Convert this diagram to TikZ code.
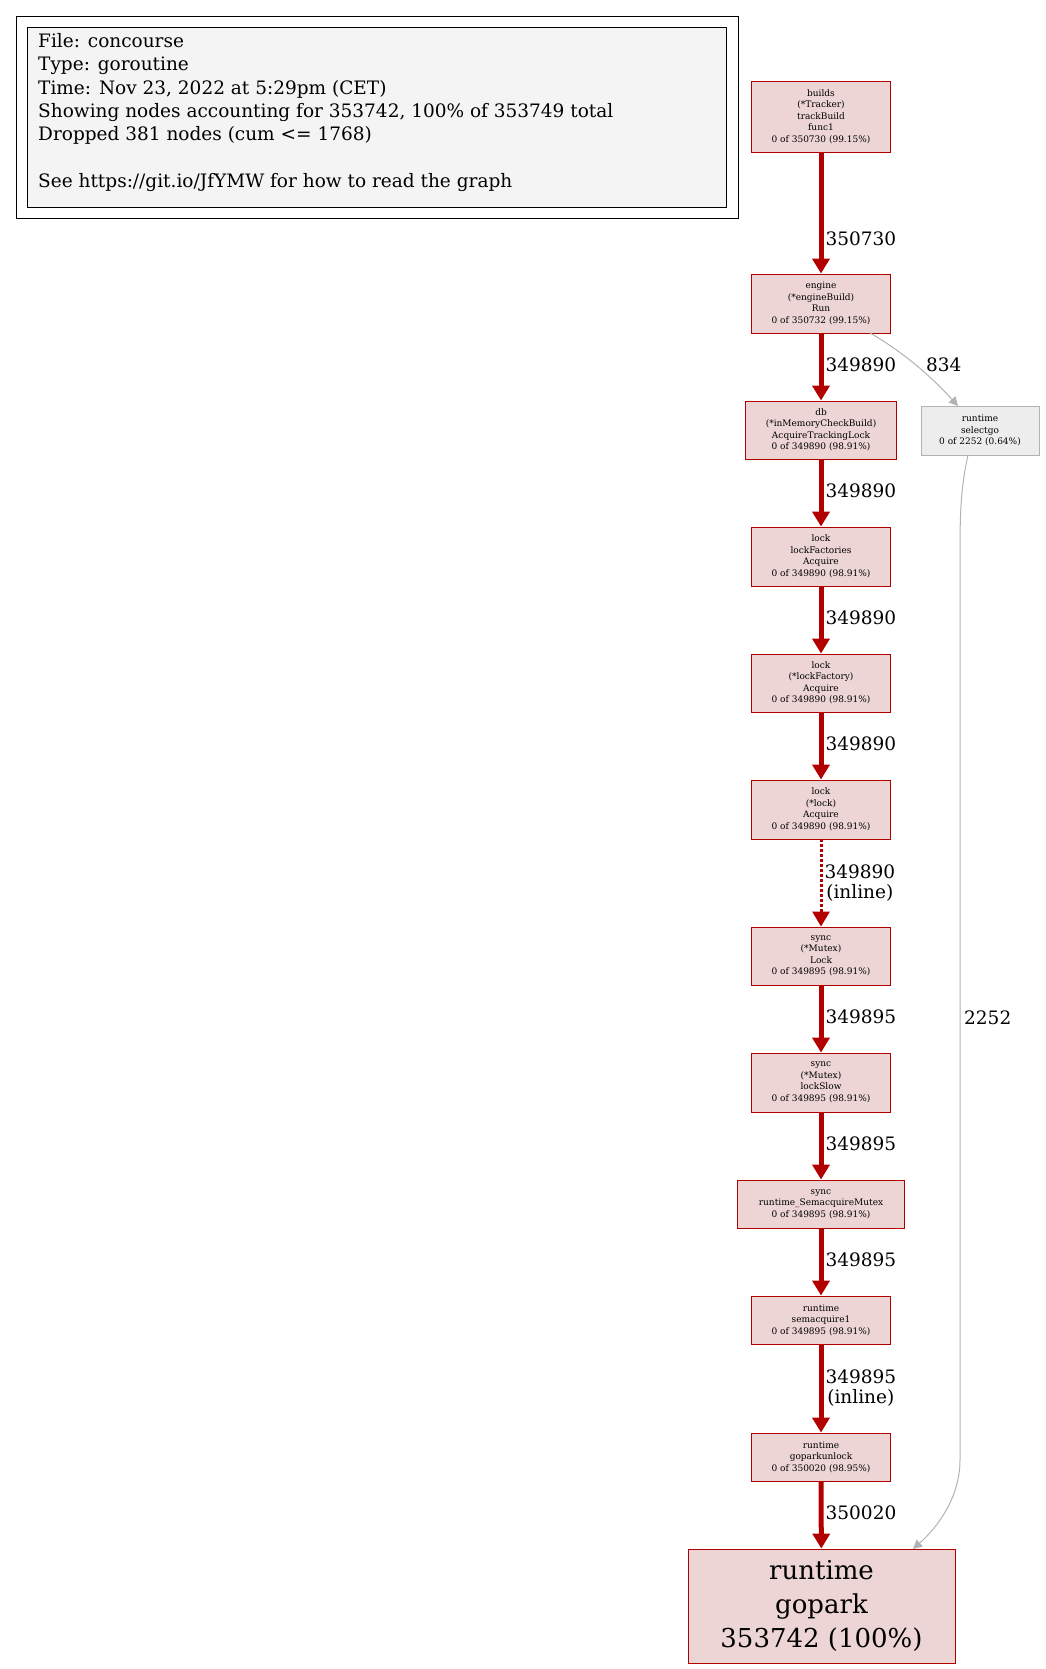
\documentclass[tikz,border=0pt]{standalone}
\usepackage{fontspec}
\setmainfont{DejaVu Serif}
\usetikzlibrary{arrows.meta}
\definecolor{er}{HTML}{B20000}
\definecolor{nf}{HTML}{EDD5D5}
\definecolor{gf}{HTML}{EDEDED}
\definecolor{ge}{HTML}{B2B2B2}
\begin{document}
\begin{tikzpicture}[x=1pt,y=-1pt,
 rn/.style={draw=er,fill=nf,line width=0.9pt,align=center,font=\fontsize{9}{11.5}\selectfont,inner sep=0pt},
 gn/.style={draw=ge,fill=gf,line width=0.9pt,align=center,font=\fontsize{9}{11.5}\selectfont,inner sep=0pt},
 re/.style={draw=er,line width=5pt,-{Triangle[length=15pt,width=17pt]}},
 lb/.style={font=\fontsize{18.5}{20}\selectfont,right,align=center,inner sep=2pt}]
\useasboundingbox (0,0) rectangle (1045,1669);
\node[draw,line width=0.8pt,minimum width=722pt,minimum height=202pt,anchor=north west] (outer) at (16,16) {};
\node[draw,fill=gf!60,line width=0.8pt,minimum width=699pt,minimum height=180pt,anchor=north west] (inner) at (27,27) {};
\node[anchor=north west,align=left,font=\fontsize{18.5}{23.4}\selectfont,inner sep=0pt] (leg) at (38,33) {File: concourse\\Type: goroutine\\Time: Nov 23, 2022 at 5:29pm (CET)\\Showing nodes accounting for 353742, 100\% of 353749 total\\Dropped 381 nodes (cum <= 1768)\\[23.4pt]See https://git.io/JfYMW for how to read the graph};
\node[rn,minimum width=139pt,minimum height=71pt] (b) at (821,116.5) {builds\\(*Tracker)\\trackBuild\\func1\\0 of 350730 (99.15\%)};
\node[rn,minimum width=139pt,minimum height=59pt] (e) at (821,303.5) {engine\\(*engineBuild)\\Run\\0 of 350732 (99.15\%)};
\node[rn,minimum width=151pt,minimum height=58pt] (db) at (821,430) {db\\(*inMemoryCheckBuild)\\AcquireTrackingLock\\0 of 349890 (98.91\%)};
\node[gn,minimum width=118pt,minimum height=49pt] (sg) at (980,430.5) {runtime\\selectgo\\0 of 2252 (0.64\%)};
\node[rn,minimum width=139pt,minimum height=59pt] (lf) at (821,556.5) {lock\\lockFactories\\Acquire\\0 of 349890 (98.91\%)};
\node[rn,minimum width=139pt,minimum height=58pt] (lfa) at (821,683) {lock\\(*lockFactory)\\Acquire\\0 of 349890 (98.91\%)};
\node[rn,minimum width=139pt,minimum height=59pt] (la) at (821,809.5) {lock\\(*lock)\\Acquire\\0 of 349890 (98.91\%)};
\node[rn,minimum width=139pt,minimum height=58pt] (ml) at (821,956) {sync\\(*Mutex)\\Lock\\0 of 349895 (98.91\%)};
\node[rn,minimum width=139pt,minimum height=59pt] (ms) at (821,1082.5) {sync\\(*Mutex)\\lockSlow\\0 of 349895 (98.91\%)};
\node[rn,minimum width=167pt,minimum height=48pt] (sm) at (821,1204) {sync\\runtime\_SemacquireMutex\\0 of 349895 (98.91\%)};
\node[rn,minimum width=139pt,minimum height=48pt] (s1) at (821,1320) {runtime\\semacquire1\\0 of 349895 (98.91\%)};
\node[rn,minimum width=139pt,minimum height=48pt] (gu) at (821,1457) {runtime\\goparkunlock\\0 of 350020 (98.95\%)};
\node[rn,minimum width=267pt,minimum height=114pt,font=\fontsize{26}{34}\selectfont] (gp) at (821.5,1606) {runtime\\gopark\\353742 (100\%)};
\draw[re] (b) -- node[lb,pos=0.71]{350730} (e);
\draw[re] (e) -- node[lb,pos=0.47]{349890} (db);
\draw[re] (db) -- node[lb,pos=0.47]{349890} (lf);
\draw[re] (lf) -- node[lb,pos=0.47]{349890} (lfa);
\draw[re] (lfa) -- node[lb,pos=0.47]{349890} (la);
\draw[draw=er,line width=3pt,dotted,-{Triangle[length=15pt,width=17pt]}] (la) -- node[lb,pos=0.5]{349890\\(inline)} (ml);
\draw[re] (ml) -- node[lb,pos=0.47]{349895} (ms);
\draw[re] (ms) -- node[lb,pos=0.47]{349895} (sm);
\draw[re] (sm) -- node[lb,pos=0.47]{349895} (s1);
\draw[re] (s1) -- node[lb,pos=0.5]{349895\\(inline)} (gu);
\draw[re] (gu) -- node[lb,pos=0.47]{350020} (gp);
\coordinate (e1) at (870,333);
\coordinate (st) at (958,406);
\draw[ge,line width=1pt,-{Triangle[length=9pt,width=9pt]}] (e1) .. controls (900,350) and (930,375) .. (st);
\node[lb,text=black] (l834) at (924,365) {834};
\coordinate (s0) at (968,455);
\coordinate (gt) at (913,1549);
\draw[ge,line width=1pt,-{Triangle[length=9pt,width=9pt]}] (s0) .. controls (960,490) and (960,520) .. (960,560) -- (960,1460) .. controls (960,1495) and (940,1525) .. (gt);
\node[lb,text=black] (l2252) at (962,1018) {2252};
\end{tikzpicture}
\end{document}
